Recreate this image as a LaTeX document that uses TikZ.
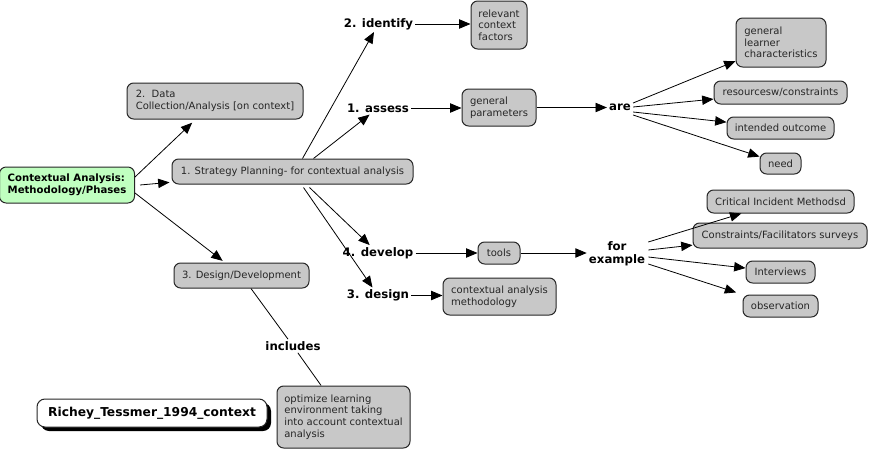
\documentclass[tikz,border=0pt]{standalone}
\usepackage{fontspec}
\setmainfont{DejaVu Sans}
\usetikzlibrary{arrows.meta,calc,shadows}
\definecolor{boxgray}{RGB}{200,200,200}
\definecolor{boxgreen}{RGB}{192,255,192}
\begin{document}
\begin{tikzpicture}[x=0.75pt,y=-0.75pt,
  box/.style={draw=black!85, line width=0.75pt, fill=boxgray, rounded corners=5pt,
    inner sep=0pt, font=\fontsize{7.5}{8.7}\selectfont, text=black!85, align=left},
  wh/.style 2 args={minimum width=#1*0.75pt, minimum height=#2*0.75pt},
  lab/.style={font=\fontsize{8.8}{10}\selectfont\bfseries, inner sep=1.5pt, align=center},
  conn/.style={draw=black, line width=0.6pt},
  arr/.style={conn, -{Triangle[length=8.5pt,width=7pt]}},
]
\useasboundingbox (0,0) rectangle (872,450);

% boxes
\node[box, fill=boxgreen, wh={135}{36}, text=black,
      font=\fontsize{7.6}{9.2}\selectfont\bfseries] (ca) at (67,185) {Contextual Analysis:\\Methodology/Phases};
\node[box, wh={176}{36}] (data) at (215,101) {2.\ \ Data\\Collection/Analysis [on context]};
\node[box, wh={241}{25}] (strat) at (292.5,171.5) {1. Strategy Planning- for contextual analysis};
\node[box, wh={135}{25}] (design) at (241.5,275.5) {3. Design/Development};
\node[box, wh={56}{48}] (relevant) at (499,25) {relevant\\context\\factors};
\node[box, wh={74}{37}] (genparam) at (499,107.5) {general\\parameters};
\node[box, wh={90}{49}] (learner) at (781,42.5) {general\\learner\\characteristics};
\node[box, wh={133}{23}] (resources) at (780.5,92.5) {resourcesw/constraints};
\node[box, wh={107}{22}] (intended) at (780.5,128) {intended outcome};
\node[box, wh={41}{21}] (need) at (780.5,163.5) {need};
\node[box, wh={42}{22}] (tools) at (499,253) {tools};
\node[box, wh={113}{37}] (cam) at (499.5,296.5) {contextual analysis\\methodology};
\node[box, wh={147}{23}] (critical) at (780.5,201.5) {Critical Incident Methodsd};
\node[box, wh={174}{25}] (constr) at (780,235.5) {Constraints/Facilitators surveys};
\node[box, wh={69}{22}] (interv) at (780.5,272) {Interviews};
\node[box, wh={75}{22}] (obs) at (780.5,306) {observation};
\node[box, wh={133}{62}] (opt) at (343.5,417) {optimize learning\\environment taking\\into account contextual\\analysis};
\node[box, fill=white, wh={230}{28}, text=black, rounded corners=6pt,
      font=\fontsize{9.2}{10}\selectfont\bfseries,
      drop shadow={shadow xshift=3pt, shadow yshift=-3pt, fill=black, opacity=1}] (richey) at (152,413) {Richey\_Tessmer\_1994\_context};

% linking phrases
\node[lab] (identify) at (378.5,24) {2. identify};
\node[lab] (assess) at (378,108) {1. assess};
\node[lab] (develop) at (378,253) {4. develop};
\node[lab] (design3) at (378,295.5) {3. design};
\node[lab] (are) at (620,107) {are};
\node[lab] (fe) at (617,254) {for\\example};
\node[lab] (inc) at (293,346) {includes};

% connectors from the root
\draw[arr, shorten >=3.5pt] ($(ca.east)+(0,-8)$) -- (data);
\draw[arr, shorten >=1.5pt] ($(ca.east)+(5,0)$) -- (strat);
\draw[arr, shorten >=2pt] ($(ca.east)+(0,8)$) -- (design);

% strategy planning
\draw[arr] ($(strat.north)+(10,0)$) -- (identify);
\draw[arr] ($(strat.north)+(21,0)$) -- (assess);
\draw[arr] ($(strat.south)+(17,3)$) -- (develop);
\draw[arr] ($(strat.south)+(11,3)$) -- (design3);

\draw[arr] (identify.east) -- (identify.east -| relevant.west);
\draw[arr] (assess.east) -- (assess.east -| genparam.west);
\draw[arr] (genparam.east) -- (genparam.east -| are.west);

\draw[arr] ($(are.east)+(0,-4)$) -- (learner);
\draw[arr] ($(are.east)+(0,0)$) -- (resources);
\draw[arr] ($(are.east)+(0,5)$) -- (intended);
\draw[arr] ($(are.east)+(0,8)$) -- (need);

\draw[arr] (develop.east) -- (develop.east -| tools.west);
\draw[arr] (design3.east) -- (design3.east -| cam.west);
\draw[arr] (tools.east) -- (tools.east -| fe.west);

\draw[arr] ($(fe.east)+(1,-12)$) -- (critical);
\draw[arr] ($(fe.east)+(1,-4)$) -- (constr);
\draw[arr] ($(fe.east)+(1,3)$) -- (interv);
\draw[arr, shorten >=5pt] ($(fe.east)+(1,10)$) -- (obs.north west);

% design / development
\draw[conn] (design) -- (inc);
\draw[conn] (inc) -- (opt);
\end{tikzpicture}
\end{document}
